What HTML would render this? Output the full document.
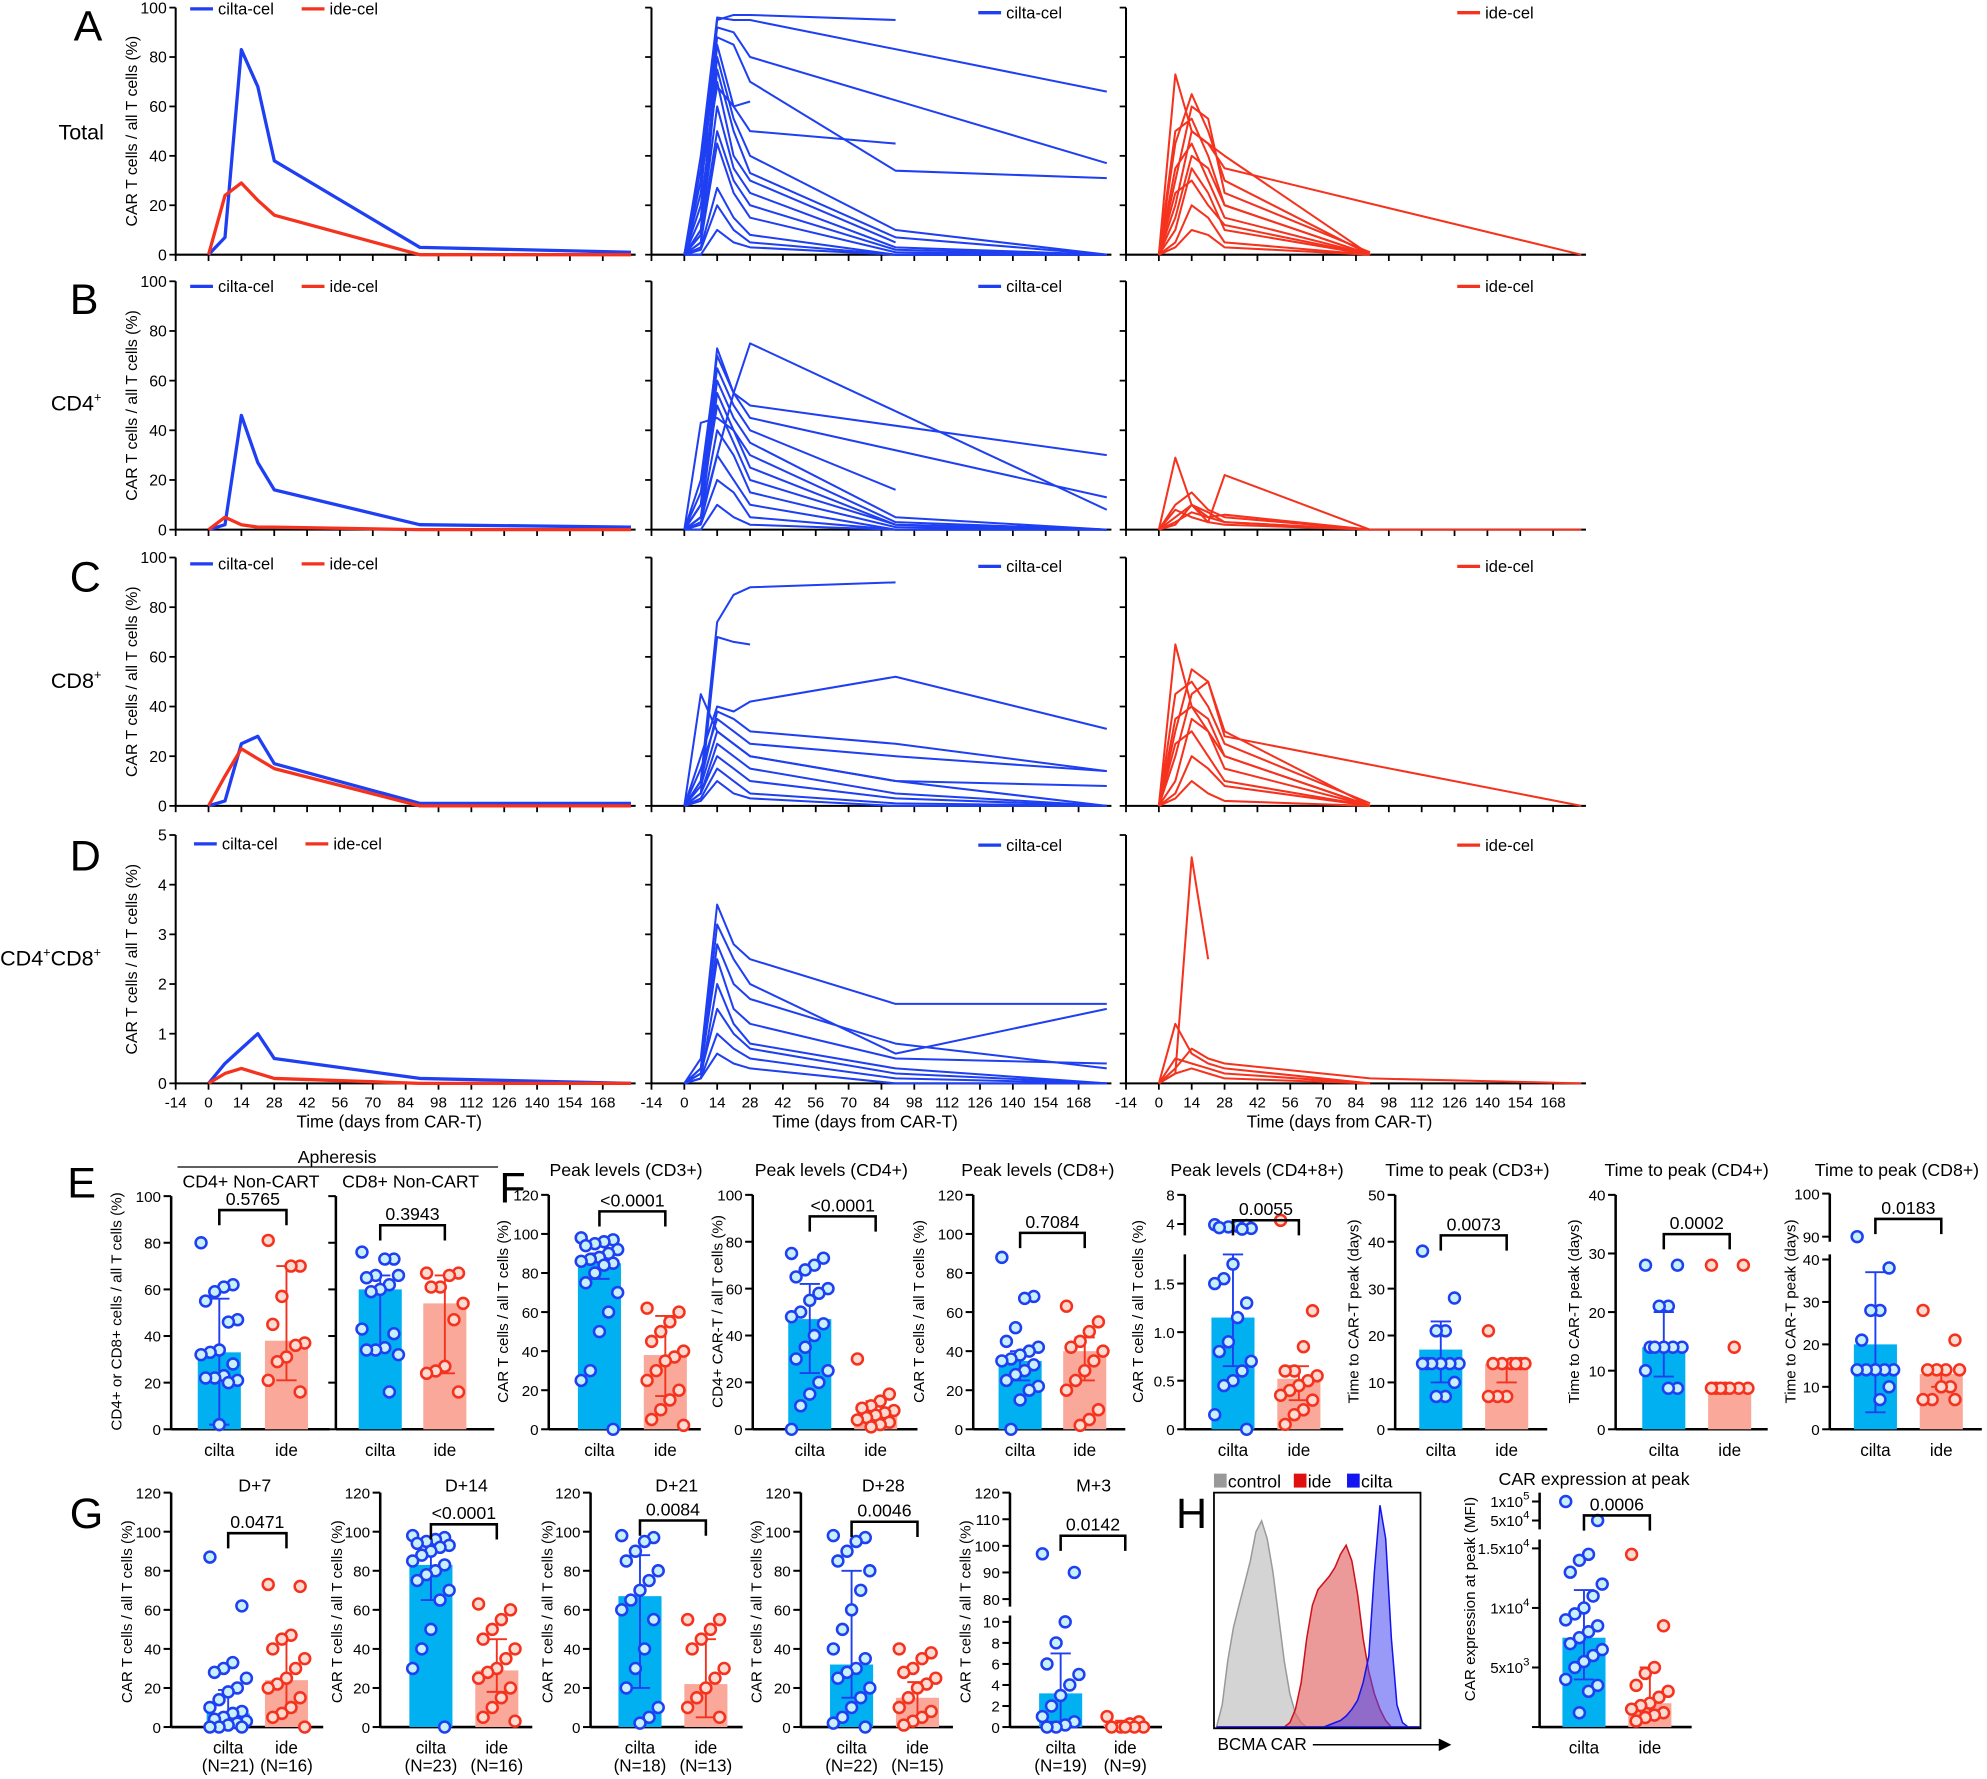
<!DOCTYPE html>
<html><head><meta charset="utf-8">
<style>body{margin:0;background:#fff}svg{display:block;font-family:"Liberation Sans",Arial,sans-serif}</style>
</head><body>
<svg id="fig" width="1987" height="1779" viewBox="0 0 1568 1404" xmlns="http://www.w3.org/2000/svg"></svg>
<script>
const svg=document.getElementById('fig');
const S='http://www.w3.org/2000/svg';
const BLUE='#1f3ff2',RED='#f5321e',BARB='#00b0f0',BARR='#f9a89a';

/* ---------- line chart data ---------- */
const days=[0,7,14,21,28,90,180];
const xTicks=[-14,0,14,28,42,56,70,84,98,112,126,140,154,168];
const yTicksPct=[0,20,40,60,80,100];
const yTicksD=[0,1,2,3,4,5];
const A1cilta=[0,7,83,68,38,3,1];
const A1ide=[0,24,29,22,16,0,0];
const B1cilta=[0,2,46,27,16,2,1];
const B1ide=[0,5,2,1,1,0,0];
const C1cilta=[0,2,25,28,17,1,1];
const C1ide=[0,12,23,19,15,0,0];
const D1cilta=[0,0.4,0.7,1.0,0.5,0.1,0];
const D1ide=[0,0.2,0.3,0.2,0.1,0,0];
const A2=[[0,30,95,97,97,95,null],[0,40,96,95,95,null,66],[0,35,92,90,80,null,37],[0,25,88,85,70,34,31],
 [0,10,85,60,50,45,null],[0,15,80,55,40,10,0],[0,5,75,50,33,7,0],[0,20,70,40,30,5,null],[0,10,60,35,25,3,0],
 [0,8,50,30,20,2,0],[0,5,45,25,15,1,0],[0,3,27,15,8,0,0],[0,2,20,10,5,0,0],[0,0,10,5,3,0,0],[0,30,68,60,62,null,null]];
const A3=[[0,73,50,45,35,null,0],[0,45,65,50,30,0,null],[0,30,60,55,25,1,null],[0,50,55,40,20,0,null],
 [0,20,50,45,40,0,null],[0,35,45,30,15,0,null],[0,15,40,35,20,0,null],[0,10,35,25,10,0,null],
 [0,25,30,20,12,0,null],[0,5,20,15,5,0,null],[0,3,10,8,3,0,null]];
const B2=[[0,10,73,55,50,null,30],[0,5,30,55,75,null,8],[0,20,70,55,45,null,13],[0,15,65,50,40,16,null],
 [0,10,60,45,35,5,0],[0,5,55,40,30,3,0],[0,43,45,40,25,2,0],[0,10,50,35,20,2,0],[0,5,40,30,15,1,0],
 [0,3,30,20,10,0,0],[0,2,20,15,5,0,0],[0,0,10,5,2,0,0]];
const B3=[[0,29,10,5,3,0,null],[0,2,10,3,22,0,null],[0,10,15,8,5,0,null],[0,5,10,7,3,0,null],[0,3,7,5,6,0,0],[0,8,5,3,2,0,null]];
const C2=[[0,10,74,85,88,90,null],[0,5,68,66,65,null,null],[0,45,30,25,20,10,0],[0,20,40,38,42,52,31],
 [0,10,38,35,30,25,14],[0,15,35,30,25,20,14],[0,8,30,25,20,10,8],[0,5,25,20,15,5,0],[0,5,20,15,10,3,0],
 [0,3,15,10,5,1,0],[0,2,10,5,3,0,0]];
const C3=[[0,65,40,30,20,0,null],[0,30,55,50,28,null,0],[0,45,50,40,25,1,null],[0,20,45,50,30,0,null],
 [0,35,40,35,20,0,null],[0,10,35,30,15,0,null],[0,25,30,20,10,0,null],[0,5,20,15,8,0,null],[0,3,10,5,2,0,null]];
const D2=[[0,0.5,3.6,2.8,2.5,1.6,1.6],[0,0.3,3.2,2.5,2.0,0.6,1.5],[0,0.2,2.8,2.0,1.7,0.8,0.3],[0,0.3,2.5,1.5,1.2,0.5,0.4],
 [0,0.1,2.0,1.2,0.8,0.3,0],[0,0.2,1.5,1.0,0.7,0.2,0],[0,0.1,1.0,0.7,0.5,0.1,0],[0,0.1,0.6,0.4,0.3,0,0]];
const D3=[[0,0.2,4.55,2.5,null,null,null],[0,1.2,0.6,0.4,0.3,0,null],[0,0.3,0.7,0.5,0.4,0.1,0],[0,0.5,0.4,0.3,0.2,0,null],[0,0.2,0.3,0.2,0.1,0,null]];

/* ---------- dot plot data ---------- */
const E1c=[80,62,61,59,55,47,46,34,33,32,28,23,22,22,21,20,2],E1i=[81,70,70,57,45,37,36,31,29,21,16];
const E2c=[76,73,73,66,65,66,62,60,59,43,41,35,34,34,32,16],E2i=[67,67,66,61,61,54,47,27,25,24,16];
const F1c=[98,97,96,95,94,92,90,88,87,86,85,84,80,75,70,60,50,30,25,0],F1i=[62,60,55,50,45,40,37,35,30,25,20,15,10,5,2];
const F2c=[75,73,70,68,65,60,58,55,50,48,45,40,35,30,25,20,15,10,0],F2i=[30,15,12,10,9,8,7,6,5,4,3,2,1];
const F3c=[88,68,67,52,45,42,40,38,36,35,33,30,28,25,22,20,15,0],F3i=[63,55,50,45,42,40,35,30,25,20,10,5,2];
const F4c=[3.9,3.8,3.7,3.6,3.5,3.4,3.3,1.7,1.55,1.5,1.3,1.15,0.9,0.8,0.7,0.6,0.5,0.45,0.15,0.0],F4i=[4.5,1.22,0.85,0.6,0.6,0.55,0.5,0.45,0.4,0.35,0.3,0.2,0.15,0.05];
const F5c=[38,28,21,21,14,14,14,14,14,14,10,7,7],F5i=[21,14,14,14,14,14,14,7,7,7];
const F6c=[28,28,21,21,14,14,14,14,14,10,7,7],F6i=[28,28,14,7,7,7,7,7,7,7];
const F7c=[90,38,28,28,21,14,14,14,14,14,10,7],F7i=[28,21,14,14,14,14,10,10,7,7,7];
const G1c=[87,62,33,30,28,25,20,18,14,10,8,7,5,4,3,2,1,0,0,0],G1i=[73,72,47,45,40,35,30,25,22,20,15,10,7,5,0];
const G2c=[98,97,96,95,94,93,92,90,88,85,83,80,78,75,70,65,50,40,30,0],G2i=[63,60,55,50,45,40,35,30,28,25,20,15,10,5,3];
const G3c=[98,97,95,90,85,80,75,70,65,60,55,40,30,20,10,5,2],G3i=[55,55,50,45,40,30,25,20,15,10,5];
const G4c=[98,97,95,90,85,80,70,60,50,40,35,30,28,25,20,15,10,5,2,0],G4i=[40,38,35,30,28,25,22,20,15,10,8,5,3,1];
const G5c=[97,90,10,8,6,5,4,3,2,1,0.5,0.2,0,0],G5i=[1,0.5,0.3,0,0,0,0,0];
const H2c=[100000,50000,14500,14000,13000,12000,11000,10000,9500,9000,8500,8000,7500,7000,6500,6000,5500,5000,4000,3500,3000,1200],H2i=[14500,8500,5000,4500,3500,3000,2500,2000,1800,1500,1200,1000,800,500];
const barVals={E1:[33,38],E2:[60,54],F1:[85,38],F2:[47,6],F3:[35,40],F4:[1.15,0.52],F5:[17,14],F6:[14,7],F7:[20,13],G1:[7,24],G2:[83,29],G3:[67,22],G4:[32,15],G5:[3.2,0.3],H2:[7500,2000]};
const errVals={E1:[[2,56],[21,70]],E2:[[34,66],[24,66]],F1:[[77,90],[17,58]],F2:[[24,62],[3,12]],F3:[[25,40],[25,47]],F4:[[0.65,1.8],[0.3,0.65]],F5:[[10,23],[10,14]],F6:[[9,20],[7,7]],F7:[[4,37],[10,14]],G1:[[2,19],[8,46]],G2:[[65,93],[18,45]],G3:[[20,88],[5,45]],G4:[[15,80],[5,23]],G5:[[0.5,7],[0,0.6]],H2:[[4000,11500],[1200,5000]]};
const pVals={E1:'0.5765',E2:'0.3943',F1:'<0.0001',F2:'<0.0001',F3:'0.7084',F4:'0.0055',F5:'0.0073',F6:'0.0002',F7:'0.0183',G1:'0.0471',G2:'<0.0001',G3:'0.0084',G4:'0.0046',G5:'0.0142',H2:'0.0006'};
const histGray=[0,10,30,45,55,65,75,88,93,85,70,50,30,15,6,2,0,0,0,0,0,0,0,0,0,0,0,0,0,0,0,0,0,0,0,0,0];
const histRed=[0,0,0,0,0,0,0,0,0,0,0,0,0,2,8,20,40,55,62,65,68,72,78,82,75,60,40,25,15,8,3,0,0,0,0,0,0];
const histBlue=[0,0,0,0,0,0,0,0,0,0,0,0,0,0,0,0,0,0,0,0,1,2,3,5,8,12,20,32,70,100,85,40,10,2,0,0,0];

function mk(tag,attrs,parent){const e=document.createElementNS(S,tag);for(const k in attrs)e.setAttribute(k,attrs[k]);(parent||svg).appendChild(e);return e;}
function tx(str,x,y,size,anchor,parent,rot){const e=mk('text',{x:x,y:y,'font-size':size,'text-anchor':anchor||'middle',fill:'#000'},parent);
 if(rot)e.setAttribute('transform','rotate(-90 '+x+' '+y+')');e.textContent=str;return e;}

/* ---------- line charts ---------- */
const colZero=[164.5,540,914.5];
const rowsDef=[[6,201,100],[222,418,100],[440,636,100],[659,855,5]];
function lineChart(col,row,series,colors,nm){
 const xz=colZero[col],px=1.852;const [yt,yb,ymax]=rowsDef[row];
 const xS=d=>xz+d*px,yS=v=>yb-(v/ymax)*(yb-yt);
 const g=mk('g',{});
 
 
 const ax=mk('path',{d:'M'+xS(-14)+' '+yt+'V'+yb+'H'+xS(182),stroke:'#000','stroke-width':1.6,fill:'none'},g);
 
 
 const yt2=row==3?yTicksD:yTicksPct;
 yt2.forEach(v=>{const t=mk('line',{x1:xS(-14)-5,x2:xS(-14),y1:yS(v),y2:yS(v),stroke:'#000','stroke-width':1.4},g);
  
  
  if(col==0){const l=tx(String(v),xS(-14)-7,yS(v)+4.5,12.5,'end',g);
   
   }});
 xTicks.forEach(d=>{const t=mk('line',{x1:xS(d),x2:xS(d),y1:yb,y2:yb+5,stroke:'#000','stroke-width':1.4},g);
  
  
  if(row==3){const l=tx(String(d),xS(d),yb+19,12,'middle',g);
   
   }});
 series.forEach((s,i)=>{const pts=[];s.forEach((v,j)=>{if(v!==null)pts.push(xS(days[j]).toFixed(1)+','+yS(v).toFixed(1));});
  const p=mk('polyline',{points:pts.join(' '),fill:'none',stroke:colors[i],'stroke-width':col==0?2.6:1.6,'stroke-linejoin':'round'},g);
  
  });
 if(row==3){const t=tx('Time (days from CAR-T)',xS(77),890,13.5,'middle',g);
  
  }
 return {xS,yS};
}
function legendItem(x,y,color,label){
 const l=mk('line',{x1:x,x2:x+18,y1:y,y2:y,stroke:color,'stroke-width':2.6});
 
 
 const t=tx(label,x+22,y+4.5,13,'start');
 
 
}
const rowSeries=[[A1cilta,A1ide,A2,A3],[B1cilta,B1ide,B2,B3],[C1cilta,C1ide,C2,C3],[D1cilta,D1ide,D2,D3]];
const legY1=[7,226,445,666],legY2=[10,226,447,667],legX1=[150,150,150,153];
const rowNames=['A','B','C','D'];
rowSeries.forEach((rs,r)=>{
 lineChart(0,r,[rs[0],rs[1]],[BLUE,RED],'median-chart-'+rowNames[r]);
 lineChart(1,r,rs[2],rs[2].map(()=>BLUE),'cilta-individual-chart-'+rowNames[r]);
 lineChart(2,r,rs[3],rs[3].map(()=>RED),'ide-individual-chart-'+rowNames[r]);
 legendItem(legX1[r],legY1[r],BLUE,'cilta-cel');legendItem(legX1[r]+88,legY1[r],RED,'ide-cel');
 legendItem(772,legY2[r],BLUE,'cilta-cel');legendItem(1150,legY2[r],RED,'ide-cel');
 const yt=tx('CAR T cells / all T cells (%)',108,(rowsDef[r][0]+rowsDef[r][1])/2,12.5,'middle',null,true);
 
 
});
[['A',58,32],['B',55,248],['C',55,467],['D',55,687],['E',53,945],['F',394,949],['G',55,1206],['H',928,1206]].forEach(a=>{
 const t=tx(a[0],a[1],a[2],34,'start');
 
 });
[['Total',64,110,''],['CD4',60,324,'+'],['CD8',60,543,'+']].forEach(a=>{
 const t=tx(a[0],a[1],a[2],17,'middle');
 if(a[3]){const s=mk('tspan',{'font-size':10,dy:-7},t);s.textContent=a[3];}
 
 });
{const t=mk('text',{x:0,y:762,'font-size':17,fill:'#000'});t.innerHTML='CD4<tspan font-size="10" dy="-7">+</tspan><tspan dy="7">CD8</tspan><tspan font-size="10" dy="-7">+</tspan>';
 
 }

/* ---------- dot/bar panels ---------- */
const lin=(v,a,b,ya,yb)=>ya+(v-a)/(b-a)*(yb-ya);
const t120=[0,20,40,60,80,100,120],t100=[0,20,40,60,80,100];
function panel(c){
 const g=mk('g',{});
 
 
 c.segs.forEach(sg=>{const a=mk('line',{x1:c.ax,x2:c.ax,y1:sg[0],y2:sg[1],stroke:'#000','stroke-width':2},g);
  
  });
 const xa=mk('line',{x1:c.ax,x2:c.ax+(c.w||120),y1:c.sc(0),y2:c.sc(0),stroke:'#000','stroke-width':2},g);
 
 
 c.ticks.forEach(tk=>{const y=c.sc(tk[0]);const t=mk('line',{x1:c.ax-6,x2:c.ax,y1:y,y2:y,stroke:'#000','stroke-width':1.6},g);
  
  
  if(tk[1]!==''){const l=mk('text',{x:c.ax-8,y:y+4.5,'font-size':tk[2]||12,'text-anchor':'end'},g);l.innerHTML=tk[1];
   
   }});
 const bv=barVals[c.id],ev=errVals[c.id],dots=[c.dc,c.di],xs=[c.cx,c.ix],fills=[BARB,BARR],cols=[BLUE,RED],dfill=['#c8f0fa','#fcdcd2'];
 const y0=c.sc(0);
 [0,1].forEach(k=>{
  const b=mk('rect',{x:xs[k]-17,y:c.sc(bv[k]),width:34,height:y0-c.sc(bv[k]),fill:fills[k]},g);
  
  
  const e=mk('path',{d:'M'+xs[k]+' '+c.sc(ev[k][0])+'V'+c.sc(ev[k][1])+'M'+(xs[k]-8)+' '+c.sc(ev[k][0])+'h16M'+(xs[k]-8)+' '+c.sc(ev[k][1])+'h16',stroke:cols[k],'stroke-width':1.5,fill:'none'},g);
  
  
  dots[k].forEach((v,i)=>{const off=(((i*7)%9)-4)*3.6;
   const d=mk('circle',{cx:xs[k]+off,cy:c.sc(v),r:4.3,fill:dfill[k],stroke:cols[k],'stroke-width':2},g);
   
   });
  const lbl=tx(k?'ide':'cilta',xs[k],y0+21,13.5,'middle',g);
  
  
  if(c.n){const n=tx('(N='+c.n[k]+')',xs[k],y0+35,13.5,'middle',g);
   
   }
 });
 const br=mk('path',{d:'M'+c.cx+' '+(c.pY+12)+'V'+c.pY+'H'+c.ix+'V'+(c.pY+12),stroke:'#000','stroke-width':2,fill:'none'},g);
 
 
 const pv=tx(pVals[c.id],(c.cx+c.ix)/2,c.pY-4,14,'middle',g);
 
 
 if(c.title){const t=tx(c.title,c.tx,c.ty,14,'middle',g);
  
  }
 if(c.yt){const t=tx(c.yt,c.ytx,c.yty||1035,12,'middle',g,true);
  
  }
}
const tk=a=>a.map(v=>[v,String(v)]);
const sE=v=>lin(v,0,100,1128,944),s120F=v=>lin(v,0,120,1128,943),s100F=v=>lin(v,0,100,1128,943);
const sF4=v=>v<=2?lin(v,0,1.5,1128,1013):lin(v,4,8,966,943);
const sF5=v=>lin(v,0,50,1128,943),sF6=v=>lin(v,0,40,1128,943);
const sF7=v=>v<=40?lin(v,0,40,1128,994):lin(v,90,100,976,942);
const sG=v=>lin(v,0,120,1363,1178);
const sG5=v=>v<=10?lin(v,0,10,1363,1280):lin(v,80,120,1262,1178);
const sH=v=>v<=15000?lin(v,0,15000,1363,1222):lin(v,50000,100000,1200,1185);
const panels=[
 {id:'E1',ax:135,sc:sE,segs:[[1128,944]],ticks:tk(t100),cx:173,ix:226,dc:E1c,di:E1i,pY:955,yt:'CD4+ or CD8+ cells / all T cells (%)',ytx:96,w:125},
 {id:'E2',ax:265,sc:sE,segs:[[1128,944]],ticks:t100.map(v=>[v,'']),cx:300,ix:351,dc:E2c,di:E2i,pY:967,w:125},
 {id:'F1',ax:433,sc:s120F,segs:[[1128,943]],ticks:tk(t120),cx:473,ix:525,dc:F1c,di:F1i,pY:956,title:'Peak levels (CD3+)',tx:494,ty:928,yt:'CAR T cells / all T cells (%)',ytx:401},
 {id:'F2',ax:594,sc:s100F,segs:[[1128,943]],ticks:tk(t100),cx:639,ix:691,dc:F2c,di:F2i,pY:960,title:'Peak levels (CD4+)',tx:656,ty:928,yt:'CD4+ CAR-T / all T cells (%)',ytx:570,w:130},
 {id:'F3',ax:768,sc:s120F,segs:[[1128,943]],ticks:tk(t120),cx:805,ix:856,dc:F3c,di:F3i,pY:973,title:'Peak levels (CD8+)',tx:819,ty:928,yt:'CAR T cells / all T cells (%)',ytx:729,w:120},
 {id:'F4',ax:935,sc:sF4,segs:[[1128,990],[975,943]],ticks:[[0,'0'],[0.5,'0.5'],[1,'1.0'],[1.5,'1.5'],[4,'4'],[8,'8']],cx:973,ix:1025,dc:F4c,di:F4i,pY:963,title:'Peak levels (CD4+8+)',tx:992,ty:928,yt:'CAR T cells / all T cells (%)',ytx:902,w:125},
 {id:'F5',ax:1101,sc:sF5,segs:[[1128,943]],ticks:tk([0,10,20,30,40,50]),cx:1137,ix:1189,dc:F5c,di:F5i,pY:975,title:'Time to peak (CD3+)',tx:1158,ty:928,yt:'Time to CAR-T peak (days)',ytx:1072},
 {id:'F6',ax:1275,sc:sF6,segs:[[1128,943]],ticks:tk([0,10,20,30,40]),cx:1313,ix:1365,dc:F6c,di:F6i,pY:974,title:'Time to peak (CD4+)',tx:1331,ty:928,yt:'Time to CAR-T peak (days)',ytx:1246},
 {id:'F7',ax:1444,sc:sF7,segs:[[1128,990],[980,942]],ticks:tk([0,10,20,30,40,90,100]),cx:1480,ix:1532,dc:F7c,di:F7i,pY:962,title:'Time to peak (CD8+)',tx:1497,ty:928,yt:'Time to CAR-T peak (days)',ytx:1417},
 {id:'G1',ax:135,sc:sG,segs:[[1363,1178]],ticks:tk(t120),cx:180,ix:226,dc:G1c,di:G1i,pY:1210,title:'D+7',tx:201,ty:1177,yt:'CAR T cells / all T cells (%)',ytx:104,yty:1272,n:[21,16]},
 {id:'G2',ax:300,sc:sG,segs:[[1363,1178]],ticks:tk(t120),cx:340,ix:392,dc:G2c,di:G2i,pY:1203,title:'D+14',tx:368,ty:1177,yt:'CAR T cells / all T cells (%)',ytx:270,yty:1272,n:[23,16]},
 {id:'G3',ax:466,sc:sG,segs:[[1363,1178]],ticks:tk(t120),cx:505,ix:557,dc:G3c,di:G3i,pY:1200,title:'D+21',tx:534,ty:1177,yt:'CAR T cells / all T cells (%)',ytx:436,yty:1272,n:[18,13]},
 {id:'G4',ax:632,sc:sG,segs:[[1363,1178]],ticks:tk(t120),cx:672,ix:724,dc:G4c,di:G4i,pY:1201,title:'D+28',tx:697,ty:1177,yt:'CAR T cells / all T cells (%)',ytx:601,yty:1272,n:[22,15]},
 {id:'G5',ax:797,sc:sG5,segs:[[1363,1275],[1268,1178]],ticks:tk([0,2,4,6,8,10,80,90,100,110,120]),cx:837,ix:888,dc:G5c,di:G5i,pY:1212,title:'M+3',tx:863,ty:1177,yt:'CAR T cells / all T cells (%)',ytx:766,yty:1272,n:[19,9]},
 {id:'H2',ax:1215,sc:sH,segs:[[1363,1215],[1207,1178]],ticks:[[0,''],[5000,'5x10<tspan font-size="9" dy="-6">3</tspan>',12],[10000,'1x10<tspan font-size="9" dy="-6">4</tspan>',12],[15000,'1.5x10<tspan font-size="9" dy="-6">4</tspan>',12],[50000,'5x10<tspan font-size="9" dy="-6">4</tspan>',12],[100000,'1x10<tspan font-size="9" dy="-6">5</tspan>',12]],cx:1250,ix:1302,dc:H2c,di:H2i,pY:1196,title:'CAR expression at peak',tx:1258,ty:1172,yt:'CAR expression at peak (MFI)',ytx:1164,yty:1262,w:120}
];
panels.forEach(panel);
/* Apheresis header */
{const t=tx('Apheresis',266,918,14);
 const l=mk('line',{x1:140,x2:393,y1:921,y2:921,stroke:'#000','stroke-width':1});
 const a=tx('CD4+ Non-CART',198,937,14);
 const b=tx('CD8+ Non-CART',324,937,14);}

/* ---------- histogram H ---------- */
{const bx=v=>960+v*4.45,hy=v=>1363-v*1.75;
 const g=mk('g',{});
 
 
 const area=(arr,fill,stroke,nm)=>{let d='M'+bx(0)+' 1363';arr.forEach((v,i)=>d+='L'+bx(i).toFixed(1)+' '+hy(v).toFixed(1));d+='L'+bx(arr.length-1)+' 1363Z';
  const p=mk('path',{d:d,fill:fill,stroke:stroke,'stroke-width':1.2},g);
  
  };
 area(histGray,'#d4d4d4','#9a9a9a','control-histogram');
 area(histRed,'rgba(228,110,110,0.7)','#d0101a','ide-histogram');
 area(histBlue,'rgba(70,70,240,0.55)','#1414f0','cilta-histogram');
 const f=mk('rect',{x:958,y:1178,width:163,height:186,fill:'none',stroke:'#000','stroke-width':1.4},g);
 
 
 const xl=tx('BCMA CAR',996,1381,13.5,'middle',g);
 
 
 const ar=mk('path',{d:'M1036 1377H1136M1136 1373L1144 1377L1136 1381Z',stroke:'#000','stroke-width':1.2,fill:'#000'},g);
 
 
 [['#999','control',958],['#e01010','ide',1021],['#1414f0','cilta',1063]].forEach(l=>{
  const r=mk('rect',{x:l[2],y:1163,width:10,height:11,fill:l[0]},g);
  
  
  const t=tx(l[1],l[2]+11,1174,14,'start',g);
  
  });
}
</script>
</body></html>
